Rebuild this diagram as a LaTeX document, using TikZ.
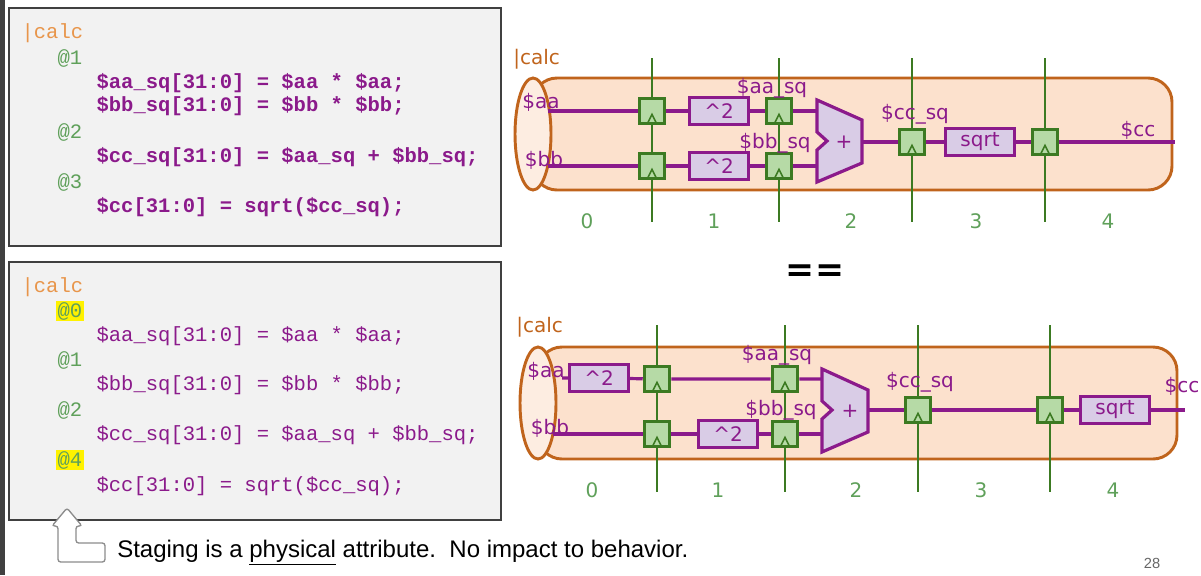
\documentclass[tikz,border=0pt]{standalone}
\usepackage{fontspec}
\setmainfont{DejaVu Sans}
\newfontfamily\codef{Liberation Mono}
\newfontfamily\arialf{Liberation Sans}
\begin{document}
\definecolor{pur}{HTML}{8B1A8B}
\definecolor{ora}{HTML}{E8954A}
\definecolor{brn}{HTML}{C0641C}
\definecolor{grn}{HTML}{3C7A22}
\definecolor{grnc}{HTML}{5FA05A}
\definecolor{flopf}{HTML}{B6DAA6}
\definecolor{boxf}{HTML}{D9CCE6}
\definecolor{peach}{HTML}{FCE1CD}
\begin{tikzpicture}[x=0.75pt,y=-0.75pt,
  codebox/.style={draw=black!75,line width=1.2pt,fill=black!5},
  code/.style={anchor=west,inner sep=1pt,text=pur,font=\codef\fontsize{15.4}{17}\selectfont\bfseries},
  codeb/.style={code,font=\codef\fontsize{15.4}{17}\selectfont},
  stage/.style={anchor=west,inner sep=1pt,text=grnc,font=\codef\fontsize{15.4}{17}\selectfont},
  pipe/.style={anchor=west,inner sep=1pt,text=ora,font=\codef\fontsize{15.4}{17}\selectfont},
  hl/.style={fill=yellow},
  cyl/.style={draw=brn,fill=peach,line width=2.2pt},
  cylend/.style={draw=brn,fill=peach!60!white,line width=2.2pt},
  wire/.style={draw=pur,line width=2.4pt},
  gline/.style={draw=grn,line width=1.8pt},
  flop/.style={draw=grn,fill=flopf,line width=2.4pt,minimum size=19pt,inner sep=0pt,
     path picture={\draw[grn,line width=1.2pt] ([xshift=-3pt,yshift=1pt]path picture bounding box.south) -- ++(3pt,6pt) -- ++(3pt,-6pt);}},
  op/.style={draw=pur,fill=boxf,line width=2.4pt,minimum height=20pt,inner sep=0pt,text=pur,font=\fontsize{15}{17}\selectfont},
  lbl/.style={text=pur,font=\fontsize{15}{17}\selectfont,inner sep=0pt},
  num/.style={text=grnc,font=\fontsize{15}{17}\selectfont,inner sep=0pt},
  calc/.style={text=brn,font=\fontsize{15}{17}\selectfont,inner sep=0pt,anchor=west}]
\useasboundingbox (0,0) rectangle (1201,575);
\fill[black!75] (0,0) rectangle (5,575);
% ---------- code boxes
\draw[codebox] (9,8) rectangle (501,246);
\node[pipe] (t0) at (20,33) {|calc};
\node[stage] (t1) at (56,58) {@1};
\node[code] (t2) at (95,83) {\$aa\_sq[31:0] = \$aa * \$aa;};
\node[code] (t3) at (95,106) {\$bb\_sq[31:0] = \$bb * \$bb;};
\node[stage] (t4) at (56,132) {@2};
\node[code] (t5) at (95,157) {\$cc\_sq[31:0] = \$aa\_sq + \$bb\_sq;};
\node[stage] (t6) at (56,182) {@3};
\node[code] (t7) at (95,207) {\$cc[31:0] = sqrt(\$cc\_sq);};
\draw[codebox] (9,262) rectangle (501,520);
\node[pipe] (b0) at (20,287) {|calc};
\node[stage,hl] (b1) at (56,311) {@0};
\node[codeb] (b2) at (95,336) {\$aa\_sq[31:0] = \$aa * \$aa;};
\node[stage] (b3) at (56,360) {@1};
\node[codeb] (b4) at (95,385) {\$bb\_sq[31:0] = \$bb * \$bb;};
\node[stage] (b5) at (56,410) {@2};
\node[codeb] (b6) at (95,435) {\$cc\_sq[31:0] = \$aa\_sq + \$bb\_sq;};
\node[stage,hl] (b7) at (56,460) {@4};
\node[codeb] (b8) at (95,486) {\$cc[31:0] = sqrt(\$cc\_sq);};
% U-turn arrow
\draw[black!45,fill=white,line width=1pt,rounded corners=2] (52,526) -- (67,508) -- (82,526) -- (76,526) -- (76,543) -- (105,543) -- (105,562) -- (58,562) -- (58,526) -- cycle;
\node[anchor=west,inner sep=0pt,font=\arialf\fontsize{18}{20}\selectfont] (note) at (117,553) {Staging is a \underline{physical} attribute.\ \ No impact to behavior.};
\node[text=black!60,font=\arialf\fontsize{11}{13}\selectfont] (pg) at (1152,563) {28};
\node[font=\bfseries\fontsize{26}{28}\selectfont] (eq) at (815,273) {==};
% ---------- top diagram
\node[calc] (c1) at (513,59) {|calc};
\draw[cyl,rounded corners=18] (533,190) -- (533,78) -- (1172,78) -- (1172,190) -- cycle;
\draw[cylend] (533,134) ellipse [x radius=18,y radius=56];
\foreach \x in {652,779,912,1045} \draw[gline] (\x,58) -- (\x,222);
\foreach \x/\n in {587/0,714/1,851/2,976/3,1108/4} \node[num] at (\x,221) {\n};
\node[flop] (fa1) at (652,111) {};
\node[flop] (fb1) at (652,166) {};
\node[flop] (fa2) at (779,111) {};
\node[flop] (fb2) at (779,166) {};
\node[flop] (fc3) at (912,142) {};
\node[flop] (fc4) at (1045,142) {};
\node[op,minimum width=44pt] (sa) at (719,111) {\textasciicircum 2};
\node[op,minimum width=44pt] (sb) at (719,166) {\textasciicircum 2};
\node[op,minimum width=52pt] (sq) at (980,142) {sqrt};
\draw[draw=pur,fill=boxf,line width=2.4pt] (817,100) -- (862,120) -- (862,163) -- (817,182) -- (817,150) -- (827,141) -- (817,132) -- cycle;
\node[text=pur,font=\fontsize{15}{17}\selectfont] (add) at (844,142) {+};
\coordinate (ai) at (548,111); \coordinate (bi) at (548,166);
\coordinate (ain) at (817,111); \coordinate (bin) at (817,166);
\coordinate (ao) at (862,142); \coordinate (co) at (1175,142);
\draw[wire] (ai) -- (fa1) (fa1) -- (sa) (sa) -- (fa2) (fa2) -- (ain);
\draw[wire] (bi) -- (fb1) (fb1) -- (sb) (sb) -- (fb2) (fb2) -- (bin);
\draw[wire] (ao) -- (fc3) (fc3) -- (sq) (sq) -- (fc4) (fc4) -- (co);
\node[lbl] at (541,102) {\$aa};
\node[lbl] at (544,160) {\$bb};
\node[lbl] at (772,88) {\$aa\_sq};
\node[lbl] at (775,143) {\$bb\_sq};
\node[lbl] at (915,114) {\$cc\_sq};
\node[lbl] at (1138,130) {\$cc};
% ---------- bottom diagram
\node[calc] (c2) at (516,327) {|calc};
\draw[cyl,rounded corners=18] (538,459) -- (538,347) -- (1177,347) -- (1177,459) -- cycle;
\draw[cylend] (538,403) ellipse [x radius=18,y radius=56];
\foreach \x in {657,785,918,1050} \draw[gline] (\x,325) -- (\x,492);
\foreach \x/\n in {592/0,718/1,856/2,981/3,1113/4} \node[num] at (\x,490) {\n};
\node[flop] (ga1) at (657,379) {};
\node[flop] (gb1) at (657,434) {};
\node[flop] (ga2) at (785,379) {};
\node[flop] (gb2) at (785,434) {};
\node[flop] (gc3) at (918,410) {};
\node[flop] (gc4) at (1050,410) {};
\node[op,minimum width=44pt] (ta) at (599,378) {\textasciicircum 2};
\node[op,minimum width=44pt] (tb) at (728,434) {\textasciicircum 2};
\node[op,minimum width=52pt] (tq) at (1115,410) {sqrt};
\draw[draw=pur,fill=boxf,line width=2.4pt] (822,369) -- (868,390) -- (868,432) -- (822,452) -- (822,419) -- (832,410) -- (822,401) -- cycle;
\node[text=pur,font=\fontsize{15}{17}\selectfont] (add2) at (850,411) {+};
\coordinate (ai2) at (562,378); \coordinate (bi2) at (553,434);
\coordinate (ain2) at (822,379); \coordinate (bin2) at (822,434);
\coordinate (ao2) at (868,410); \coordinate (co2) at (1185,410);
\draw[wire] (ai2) -- (ta) (ta) -- (ga1) (ga1) -- (ga2) (ga2) -- (ain2);
\draw[wire] (bi2) -- (gb1) (gb1) -- (tb) (tb) -- (gb2) (gb2) -- (bin2);
\draw[wire] (ao2) -- (gc3) (gc3) -- (gc4) (gc4) -- (tq) (tq) -- (co2);
\node[lbl] at (546,371) {\$aa};
\node[lbl] at (550,428) {\$bb};
\node[lbl] at (777,355) {\$aa\_sq};
\node[lbl] at (781,410) {\$bb\_sq};
\node[lbl] at (920,382) {\$cc\_sq};
\node[lbl] at (1182,386) {\$cc};
\end{tikzpicture}
\end{document}
